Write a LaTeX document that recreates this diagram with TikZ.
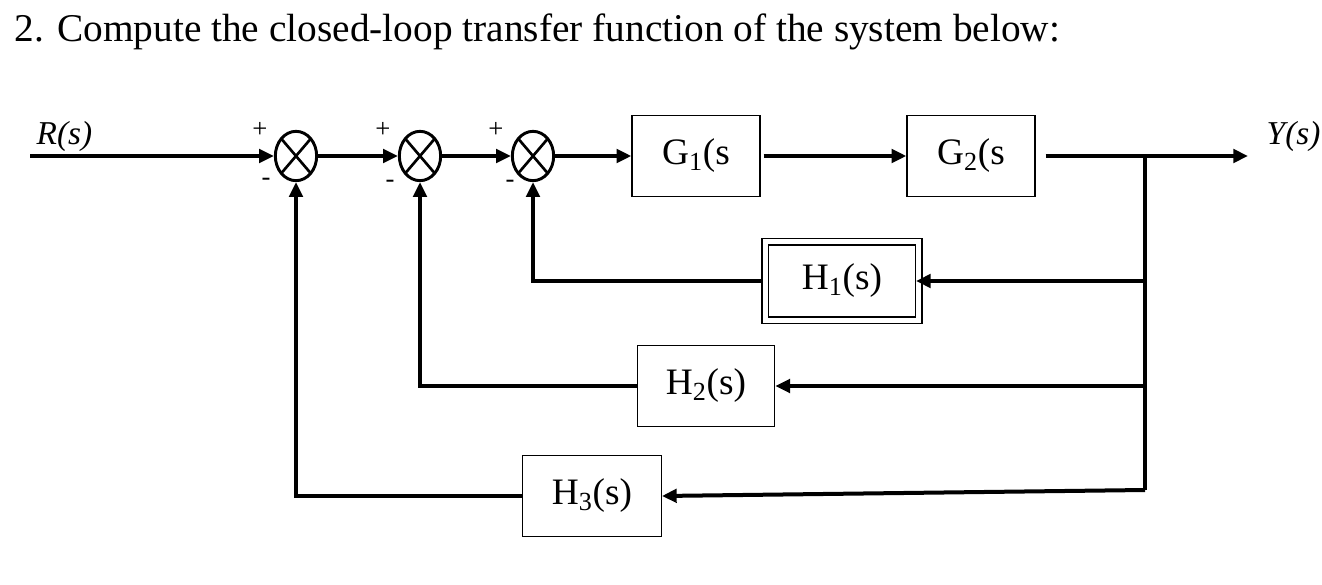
\documentclass[tikz,border=0pt]{standalone}
\usepackage{fontspec}
\setmainfont{Liberation Serif}
\usetikzlibrary{arrows.meta,shapes.geometric}
\begin{document}
\begin{tikzpicture}[x=0.75pt,y=-0.75pt,
  sig/.style={line width=3pt},
  arr/.style={sig,-{Triangle[length=11pt,width=10pt]}},
  sum/.style={draw,ellipse,line width=2.2pt,minimum width=31pt,minimum height=37pt,inner sep=0pt,
    path picture={\draw[line width=2pt] ([shift={(4pt,-5pt)}]path picture bounding box.north west) -- ([shift={(-4pt,5pt)}]path picture bounding box.south east);
      \draw[line width=2pt] ([shift={(-4pt,-5pt)}]path picture bounding box.north east) -- ([shift={(4pt,5pt)}]path picture bounding box.south west);}},
  blk/.style={draw,line width=1pt,minimum width=96pt,minimum height=61pt,font=\fontsize{28}{30}\selectfont},
  sgn/.style={font=\fontsize{20}{20}\selectfont}]
\useasboundingbox (0,0) rectangle (1322,585);
\node[anchor=base west,font=\fontsize{29.5}{32}\selectfont] (title) at (10,42) {2. Compute the closed-loop transfer function of the system below:};
\node[anchor=base west,font=\fontsize{25}{28}\selectfont\itshape] (r) at (32,145) {R(s)};
\node[anchor=base west,font=\fontsize{25}{28}\selectfont\itshape] (y) at (1262,145) {Y(s)};
\coordinate (rin) at (30,156);
\node[sum] (s1) at (296,156) {};
\node[sum] (s2) at (420,156) {};
\node[sum] (s3) at (533,156) {};
\node[sgn] at (260,130) {+}; \node[sgn] at (266,182) {-};
\node[sgn] at (383,130) {+}; \node[sgn] at (390,184) {-};
\node[sgn] at (496,130) {+}; \node[sgn] at (510,184) {-};
\node[blk] (g1) at (696,156) {G\textsubscript{1}(s};
\node[blk] (g2) at (971,156) {G\textsubscript{2}(s};
\node[blk,minimum width=120pt,minimum height=64pt] (h1o) at (842,281) {};
\node[blk,minimum width=110pt,minimum height=54pt] (h1) at (842,281) {H\textsubscript{1}(s)};
\node[blk,minimum width=103pt] (h2) at (706,386) {H\textsubscript{2}(s)};
\node[blk,minimum width=104pt] (h3) at (592,496) {H\textsubscript{3}(s)};
\coordinate (yo) at (1248,156);
\coordinate (b0) at (1145,156);
\coordinate (b1) at (1145,281);
\coordinate (b2) at (1145,386);
\coordinate (b3) at (1145,490);
\draw[arr] (rin) -- (s1.west);
\draw[arr] (s1.east) -- (s2.west);
\draw[arr] (s2.east) -- (s3.west);
\draw[arr] (s3.east) -- (g1.west);
\draw[arr] (g1.east) ++(3,0) -- (g2.west);
\draw[arr] (g2.east) ++(10,0) -- (yo);
\draw[sig] (b0) -- (b3);
\draw[arr] (b1) -- (h1.east);
\draw[arr] (b2) -- (h2.east);
\draw[arr] (b3) -- (h3.east);
\draw[arr] (h1o.west) -| (s3.south);
\draw[arr] (h2.west) -| (s2.south);
\draw[arr] (h3.west) -| (s1.south);
\end{tikzpicture}
\end{document}
